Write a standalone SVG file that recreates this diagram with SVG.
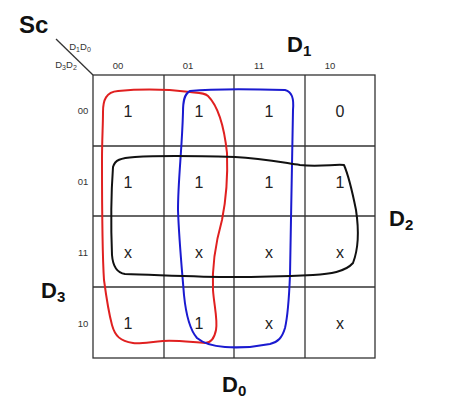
<svg xmlns="http://www.w3.org/2000/svg" width="474" height="417" viewBox="0 0 474 417">
<style>
.grid{stroke:#333;stroke-width:1.3;fill:none}
.lbl{font-family:"Liberation Sans",Arial,sans-serif;font-size:9.5px;fill:#333;text-anchor:middle}
.val{font-family:"Liberation Sans",Arial,sans-serif;font-size:16px;fill:#222;text-anchor:middle}
.big{font-family:"Liberation Sans",Arial,sans-serif;font-size:22px;font-weight:bold;fill:#111}
.sub{font-size:15px}
.loop{fill:none;stroke-width:2;stroke-linejoin:round;stroke-linecap:round}
</style>
<rect width="474" height="417" fill="#fff"/>
<g id="map">
<line class="grid" x1="56" y1="39" x2="93" y2="75"/>
<rect class="grid" x="93" y="75" width="282" height="283"/>
<line class="grid" x1="164" y1="75" x2="164" y2="358"/>
<line class="grid" x1="234" y1="75" x2="234" y2="358"/>
<line class="grid" x1="305" y1="75" x2="305" y2="358"/>
<line class="grid" x1="93" y1="146" x2="375" y2="146"/>
<line class="grid" x1="93" y1="216" x2="375" y2="216"/>
<line class="grid" x1="93" y1="287" x2="375" y2="287"/>
</g>
<g id="headers">
<text class="big" x="19" y="33" style="font-size:24px">Sc</text>
<text class="lbl" x="80" y="50">D<tspan font-size="7" dy="2">1</tspan><tspan dy="-2">D</tspan><tspan font-size="7" dy="2">0</tspan></text>
<text class="lbl" x="66" y="68">D<tspan font-size="7" dy="2">3</tspan><tspan dy="-2">D</tspan><tspan font-size="7" dy="2">2</tspan></text>
<text class="lbl" x="118" y="69">00</text>
<text class="lbl" x="188" y="69">01</text>
<text class="lbl" x="259" y="69">11</text>
<text class="lbl" x="330" y="69">10</text>
<text class="lbl" x="83" y="114">00</text>
<text class="lbl" x="83" y="185">01</text>
<text class="lbl" x="83" y="256">11</text>
<text class="lbl" x="83" y="327">10</text>
<text class="big" x="287" y="52">D<tspan class="sub" dy="4">1</tspan></text>
<text class="big" x="389" y="226">D<tspan class="sub" dy="4">2</tspan></text>
<text class="big" x="41" y="298">D<tspan class="sub" dy="4">3</tspan></text>
<text class="big" x="222" y="392">D<tspan class="sub" dy="4">0</tspan></text>
</g>
<g id="cells">
<text class="val" x="128" y="117">1</text>
<text class="val" x="199" y="117">1</text>
<text class="val" x="269" y="117">1</text>
<text class="val" x="340" y="117">0</text>
<text class="val" x="128" y="188">1</text>
<text class="val" x="199" y="188">1</text>
<text class="val" x="269" y="188">1</text>
<text class="val" x="340" y="188">1</text>
<text class="val" x="128" y="258">x</text>
<text class="val" x="199" y="258">x</text>
<text class="val" x="269" y="258">x</text>
<text class="val" x="340" y="258">x</text>
<text class="val" x="128" y="329">1</text>
<text class="val" x="199" y="329">1</text>
<text class="val" x="269" y="329">x</text>
<text class="val" x="340" y="329">x</text>
</g>
<g id="connectors">
<path class="loop" stroke="#e02020" d="M103,112 C103,100 106,92 118,91 C140,89 165,89 190,92 C200,93 205,93 208,96 C218,106 224,125 227,153 C228,180 225,205 222,220 C215,245 212,270 213,290 C214,305 218,320 216,330 C214,340 210,343 205,343 C190,342 175,340 163,341 C150,342 140,344 133,343 C120,341 115,336 112,325 C108,310 106,295 104,280 C102,250 102,200 102,160 C102,140 103,125 103,112 Z"/>
<path class="loop" stroke="#1a1ad0" d="M183,112 C183,102 184,94 190,91 C210,89 250,89 285,90 C292,92 294,98 293,110 C292,160 291,220 290,275 C289,300 288,315 285,328 C282,338 278,342 270,344 C255,347 240,348 225,347 C212,346 204,344 197,338 C190,330 186,315 184,295 C182,270 179,240 178,210 C178,180 182,150 183,112 Z"/>
<path class="loop" stroke="#111" d="M113,167 C115,160 120,158 135,157 C165,155 200,156 235,157 C260,158 280,162 300,165 C320,167 335,164 344,165 C347,172 352,190 356,210 C359,230 358,250 353,263 C345,272 330,274 313,275 C290,276 260,277 233,277 C200,277 160,275 125,274 C118,273 113,268 112,255 C111,230 111,195 113,167 Z"/>
</g>
</svg>
